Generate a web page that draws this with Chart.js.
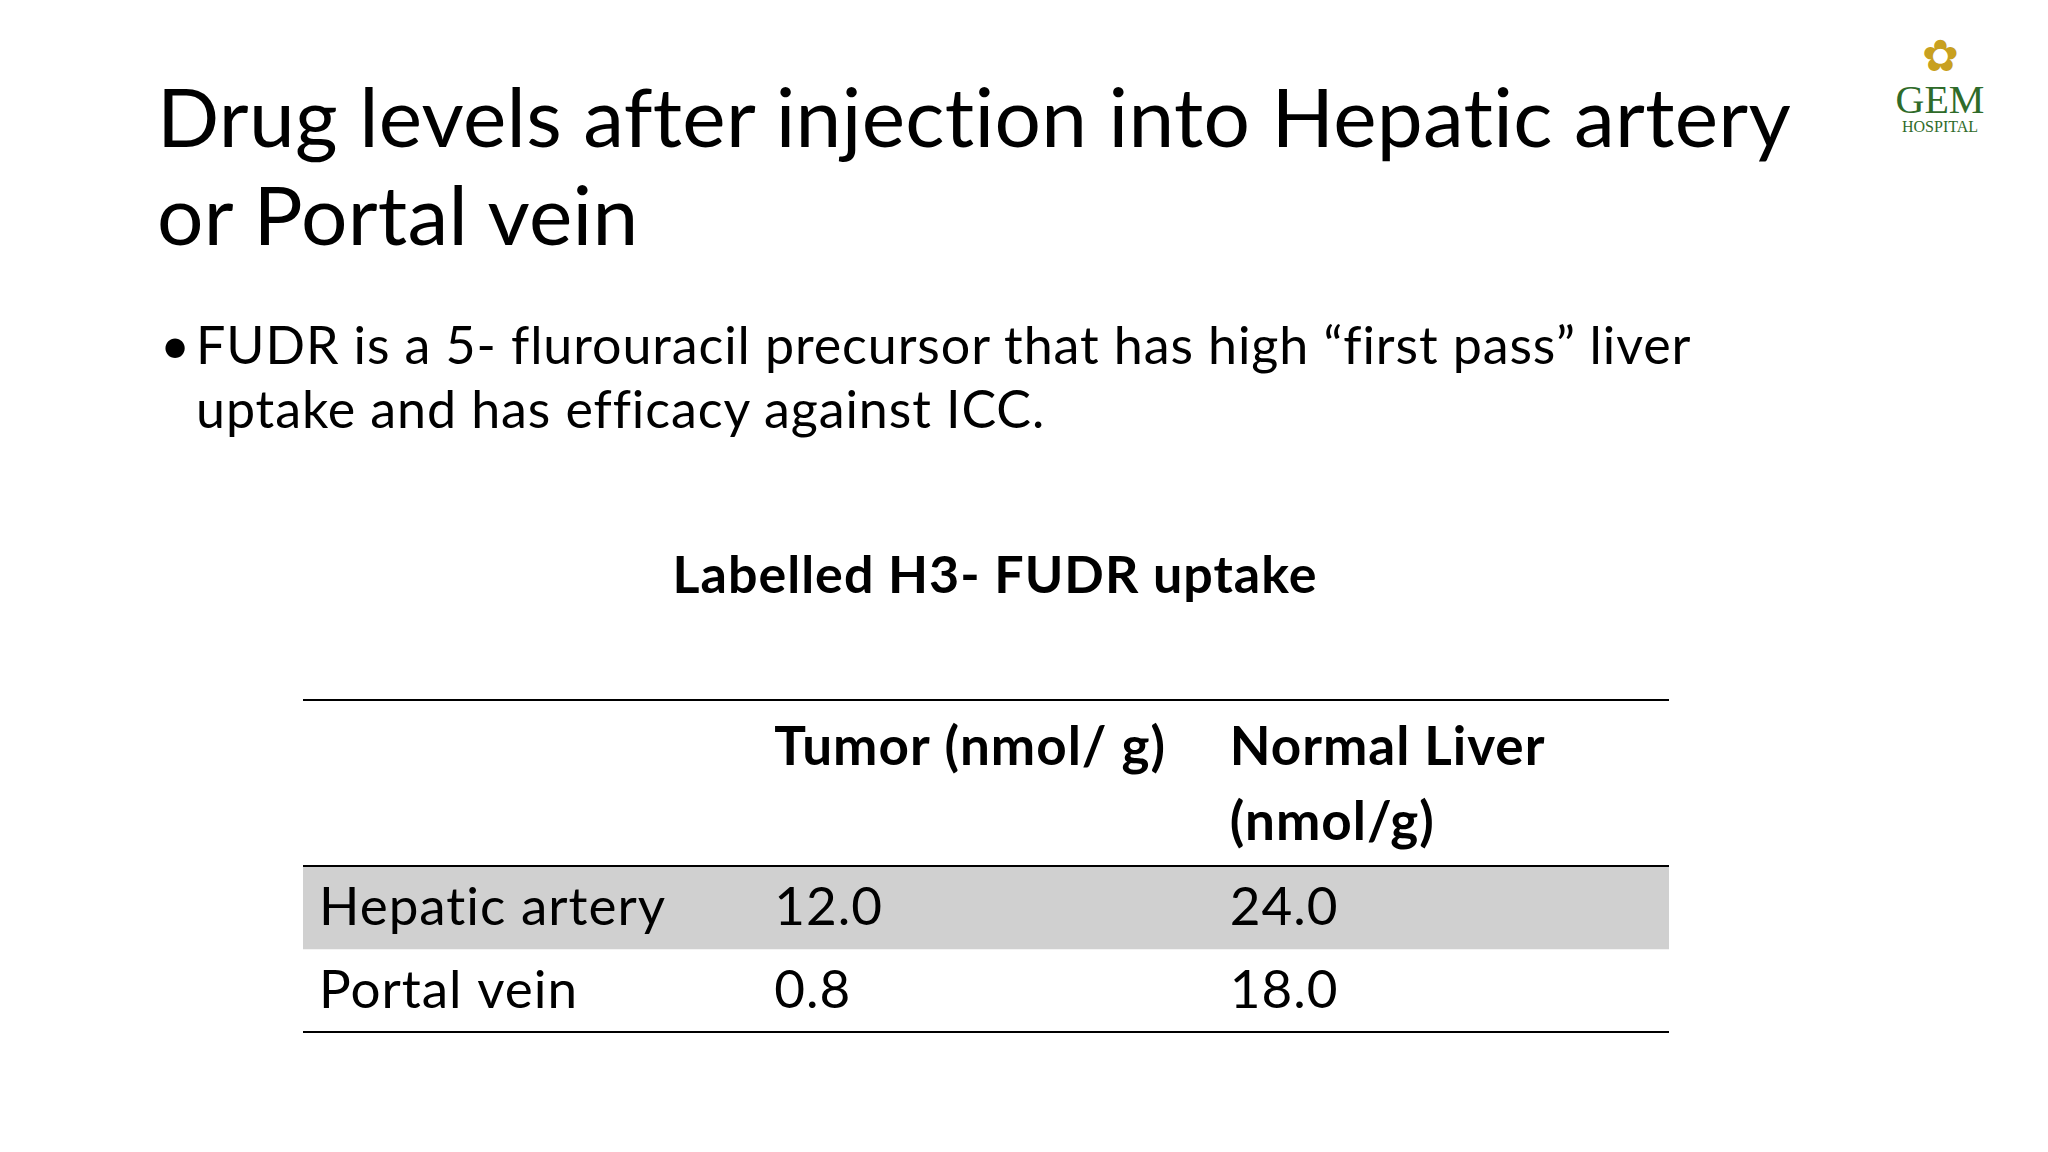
<!DOCTYPE html>
<html><head><meta charset="utf-8">
<script src="https://cdn.jsdelivr.net/npm/chart.js@4"></script>
<style>
html,body{margin:0;padding:0;background:#fff;width:2048px;height:1152px;overflow:hidden;font-family:Lato,"Open Sans",sans-serif;color:#000}
#title{position:absolute;left:157px;top:66px;font-size:82px;line-height:98px;letter-spacing:0.3px;white-space:nowrap}
#bullet{position:absolute;left:160px;top:312px;font-size:52px;line-height:64px;white-space:nowrap;letter-spacing:0.9px}
#bullet span{position:absolute;left:0}
#bullet div{padding-left:36px}
#sub{position:absolute;left:0;width:1990px;text-align:center;top:542px;font-size:52px;font-weight:bold;letter-spacing:1px}
#logo{position:absolute;left:1880px;top:30px;width:120px;text-align:center;font-family:"Liberation Serif",serif;color:#2f6b2a}
#wrap{position:absolute;left:303px;top:690px;width:1366px;height:352px}
</style></head><body>
<div id="title">Drug levels after injection into Hepatic artery<br>or Portal vein</div>
<div id="bullet"><span>•</span><div>FUDR is a 5- flurouracil precursor that has high “first pass” liver<br>uptake and has efficacy against ICC.</div></div>
<div id="sub">Labelled H3- FUDR uptake</div>
<div id="logo"><div style="font-size:44px;color:#c8a020">✿</div><div style="font-size:40px;line-height:36px">GEM</div><div style="font-size:16px">HOSPITAL</div></div>
<div id="wrap"><canvas id="c"></canvas></div>
<script>
const rows = ['header1','header2','Hepatic artery','Portal vein'];
const headerLine1 = ['', 'Tumor (nmol/ g)', 'Normal Liver'];
const headerLine2 = ['', '', '(nmol/g)'];
const rowLabels = ['Hepatic artery','Portal vein'];
const tumor = ['12.0','0.8'];
const normalLiver = ['24.0','18.0'];
const shaded = [null,null,[0,3],null];

const tablePlugin = {
  id:'table',
  afterDatasetsDraw(chart){
    const {ctx, chartArea:a, scales:{x,y}} = chart;
    const font = "53px Lato, 'Open Sans', sans-serif";
    const bold = "bold 53px Lato, 'Open Sans', sans-serif";
    ctx.save();
    ctx.fillStyle='#000'; ctx.textBaseline='middle'; ctx.textAlign='left';
    if ('letterSpacing' in ctx) ctx.letterSpacing='1px';
    const colX = i => x.getPixelForValue(i)+16;
    ctx.font=bold;
    headerLine1.forEach((t,i)=>ctx.fillText(t,colX(i),y.getPixelForValue(0)+6));
    headerLine2.forEach((t,i)=>ctx.fillText(t,colX(i),y.getPixelForValue(1)-2));
    ctx.font=font;
    rowLabels.forEach((lab,r)=>{
      const yy=y.getPixelForValue(2+r);
      [lab,tumor[r],normalLiver[r]].forEach((t,i)=>ctx.fillText(t,colX(i),yy));
    });
    const half=(y.getPixelForValue(1)-y.getPixelForValue(0))/2;
    ctx.strokeStyle='#000'; ctx.lineWidth=2;
    [y.getPixelForValue(0)-half, y.getPixelForValue(1)+half, y.getPixelForValue(3)+half].forEach(v=>{
      ctx.beginPath(); ctx.moveTo(a.left,v); ctx.lineTo(a.right,v); ctx.stroke();
    });
    ctx.restore();
  }
};
new Chart(document.getElementById('c'),{
  type:'bar',
  data:{labels:rows,datasets:[{data:shaded,backgroundColor:'#d0d0d0',barPercentage:1,categoryPercentage:1,borderWidth:0}]},
  options:{indexAxis:'y',responsive:true,maintainAspectRatio:false,animation:false,
    layout:{padding:{top:10,bottom:10,left:0,right:0}},
    plugins:{legend:{display:false},tooltip:{enabled:false}},
    scales:{x:{type:'linear',min:0,max:3,display:false},y:{display:false}}},
  plugins:[tablePlugin]
});
</script>
</body></html>
